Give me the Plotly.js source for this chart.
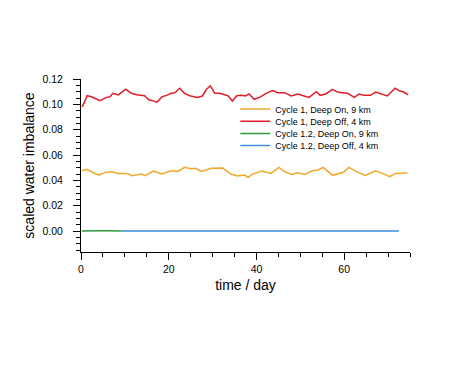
<!DOCTYPE html>
<html>
<head>
<meta charset="utf-8">
<script src="https://cdn.plot.ly/plotly-3.0.1.min.js"></script>
<style>html,body{margin:0;padding:0;background:#fff;}#chart{width:474px;height:366px;}</style>
</head>
<body>
<div id="chart"></div>
<script>
// Series names
const seriesNames = [
  "Cycle 1, Deep On, 9 km",
  "Cycle 1, Deep Off, 4 km",
  "Cycle 1.2, Deep On, 9 km",
  "Cycle 1.2, Deep Off, 4 km"
];

// Cycle 1, Deep On, 9 km (orange)
const timeDeepOn9 = [0.2,1.3,2.4,4.1,5.5,7.0,8.5,10.4,11.7,13.1,13.8,14.6,16.5,18.4,20.6,22.1,23.6,25.1,26.1,27.4,29.7,32.3,34.2,35.6,36.5,37.3,38.1,39.1,41.2,43.3,45.1,46.6,48.1,49.3,51.0,52.7,54.1,55.2,57.3,59.6,61.1,62.7,64.8,67.2,68.7,70.4,71.7,74.4];
const valDeepOn9 = [0.0476,0.0487,0.0468,0.0442,0.0463,0.0468,0.0455,0.0455,0.0437,0.0442,0.0450,0.0437,0.0474,0.0450,0.0476,0.0471,0.0503,0.0492,0.0495,0.0471,0.0495,0.0497,0.0450,0.0434,0.0440,0.0442,0.0424,0.0450,0.0474,0.0455,0.0503,0.0466,0.0447,0.0460,0.0447,0.0476,0.0482,0.0503,0.0442,0.0460,0.0503,0.0471,0.0440,0.0476,0.0455,0.0429,0.0455,0.0460];

// Cycle 1, Deep Off, 4 km (red)
const timeDeepOff4 = [0.3,1.4,2.4,4.3,5.8,6.6,7.3,8.5,10.2,11.5,12.7,14.5,15.5,16.4,17.3,18.5,19.5,20.6,21.4,22.5,23.6,24.8,26.5,27.7,28.6,29.5,30.5,31.6,33.5,34.5,35.5,36.5,37.5,38.3,39.5,40.7,42.2,43.7,44.8,46.4,47.9,49.4,50.9,52.0,53.0,53.7,54.5,55.8,57.3,58.5,59.6,60.8,62.3,63.4,64.5,66.0,67.2,68.7,69.8,71.6,72.7,73.6,74.6];
const valDeepOff4 = [0.0980,0.1068,0.1060,0.1029,0.1055,0.1060,0.1087,0.1074,0.1119,0.1087,0.1076,0.1068,0.1034,0.1029,0.1016,0.1060,0.1071,0.1087,0.1092,0.1127,0.1087,0.1068,0.1055,0.1066,0.1119,0.1145,0.1087,0.1087,0.1068,0.1026,0.1068,0.1071,0.1066,0.1082,0.1040,0.1055,0.1087,0.1108,0.1092,0.1092,0.1066,0.1082,0.1066,0.1055,0.1082,0.1100,0.1071,0.1082,0.1119,0.1097,0.1092,0.1087,0.1055,0.1082,0.1071,0.1071,0.1097,0.1082,0.1066,0.1127,0.1105,0.1097,0.1074];

// Cycle 1.2, Deep On, 9 km (green)
const timeC12On9 = [0.2,1.5,3.0,4.5,6.0,7.5,9.3];
const valC12On9 = [0.0000,0.0002,0.0003,0.0003,0.0003,0.0002,0.0001];

// Cycle 1.2, Deep Off, 4 km (blue)
const timeC12Off4 = [9.3,15,20,25,30,35,40,45,50,55,60,65,70,72.5];
const valC12Off4 = [0.0001,0.0000,0.0001,0.0001,0.0000,0.0001,0.0001,0.0000,0.0001,0.0000,0.0001,0.0000,0.0001,0.0000];

const colors = ["#F0A82A", "#DF1F2A", "#2E9A3A", "#3A8FDE"];

const xs = [timeDeepOn9, timeDeepOff4, timeC12On9, timeC12Off4];
const ys = [valDeepOn9, valDeepOff4, valC12On9, valC12Off4];
const legendIds = ["legend", "legend2", "legend3", "legend4"];
const legendY = [0.8266, 0.756, 0.6855, 0.615];

const traces = xs.map((x, i) => ({
  x: x, y: ys[i], type: "scatter", mode: "lines",
  name: seriesNames[i],
  line: {color: colors[i], width: 1.5},
  legend: legendIds[i]
}));

const font = "Liberation Sans, Arial, Helvetica, sans-serif";
const layout = {
  width: 474, height: 366,
  margin: {l: 81, r: 64, t: 79, b: 114, pad: 0},
  paper_bgcolor: "#fff", plot_bgcolor: "#fff",
  font: {family: font, color: "#000"},
  showlegend: true,
  xaxis: {
    range: [0, 75], showgrid: false, zeroline: false,
    showline: true, linecolor: "#000", linewidth: 1,
    ticks: "outside", ticklen: 7, tickwidth: 1, tickcolor: "#000",
    tick0: 0, dtick: 20,
    minor: {dtick: 5, ticks: "outside", ticklen: 4, tickcolor: "#000", showgrid: false},
    tickfont: {size: 10.5, family: font},
    title: {text: "time / day", font: {size: 14, family: font}, standoff: 6}
  },
  yaxis: {
    range: [-0.0165, 0.12], showgrid: false, zeroline: false,
    showline: true, linecolor: "#000", linewidth: 1,
    ticks: "outside", ticklen: 7, tickwidth: 1, tickcolor: "#000",
    tick0: 0, dtick: 0.02, tickformat: ".2f",
    minor: {dtick: 0.005, ticks: "outside", ticklen: 4, tickcolor: "#000", showgrid: false},
    tickfont: {size: 10.5, family: font},
    ticklabelstandoff: 8,
    title: {text: "scaled water imbalance", font: {size: 14, family: font}, standoff: 4}
  }
};
legendIds.forEach((id, i) => {
  layout[id] = {
    x: 0.469, y: legendY[i], xanchor: "left", yanchor: "middle",
    bgcolor: "rgba(0,0,0,0)", borderwidth: 0,
    font: {size: 9, family: font, color: "#000"}
  };
});

Plotly.newPlot("chart", traces, layout, {displayModeBar: false, staticPlot: true});
</script>
</body>
</html>
